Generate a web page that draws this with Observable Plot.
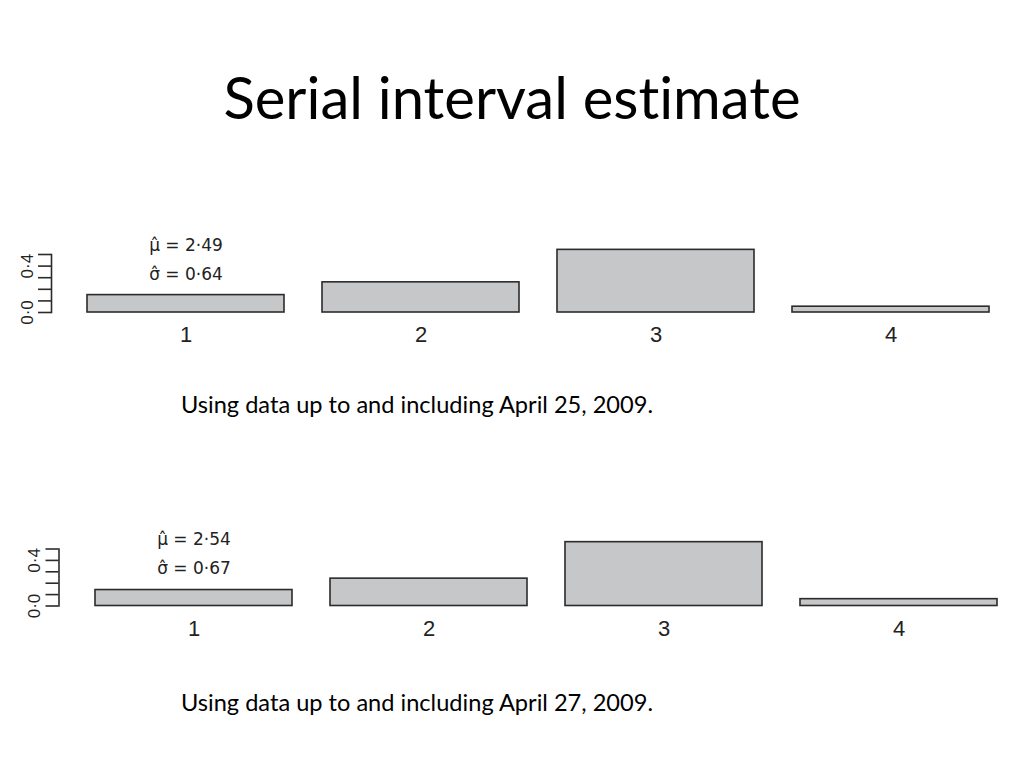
<!DOCTYPE html>
<html>
<head>
<meta charset="utf-8">
<script src="https://cdn.jsdelivr.net/npm/d3@7"></script>
<script src="https://cdn.jsdelivr.net/npm/@observablehq/plot@0.6"></script>
<style>
  html, body { margin: 0; padding: 0; background: #fff; }
  body { width: 1024px; height: 768px; position: relative; overflow: hidden; }
  #title { position: absolute; left: 0; width: 1024px; top: 68px; text-align: center;
           font-family: Lato, "Open Sans", sans-serif; font-size: 58px; color: #000; line-height: 1;
           font-variant-ligatures: none; }
  .cap { position: absolute; left: 181px; font-family: Lato, "Open Sans", sans-serif;
         font-size: 23.6px; color: #000; line-height: 1; white-space: nowrap; }
  .chart { position: absolute; left: 0; }
</style>
</head>
<body>
<div id="title">Serial interval estimate</div>
<div id="c1" class="chart" style="top:190px"></div>
<div class="cap" id="cap1" style="top:393px"></div>
<div id="c2" class="chart" style="top:480px"></div>
<div class="cap" id="cap2" style="top:691px"></div>
<script>
// ---- data ----
const days = ["1", "2", "3", "4"];
const probApr25 = [0.15, 0.26, 0.54, 0.05];
const probApr27 = [0.14, 0.24, 0.56, 0.06];
const muApr25 = "2·49", sigmaApr25 = "0·64";
const muApr27 = "2·54", sigmaApr27 = "0·67";
const yTicks = [0, 0.1, 0.2, 0.3, 0.4, 0.5];
const yTickLabels = new Map([[0, "0·0"], [0.4, "0·4"]]);
const captionApr25 = "Using data up to and including April 25, 2009.";
const captionApr27 = "Using data up to and including April 27, 2009.";

document.getElementById("cap1").textContent = captionApr25;
document.getElementById("cap2").textContent = captionApr27;

function panel(values, mu, sigma, layout) {
  const rows = days.map((d, i) => ({day: d, p: values[i]}));
  const notes = [
    {day: days[0], p: values[0], label: "μ̂ = " + mu, dy: -50},
    {day: days[0], p: values[0], label: "σ̂ = " + sigma, dy: -21}
  ];
  return Plot.plot({
    width: 1024,
    height: layout.height,
    marginTop: layout.marginTop,
    marginBottom: layout.marginBottom,
    marginLeft: layout.axisX,
    marginRight: 0,
    style: {fontFamily: "'Liberation Sans', Arial, sans-serif", background: "transparent", overflow: "visible"},
    x: {domain: days, range: [layout.axisX, layout.axisX + 974], paddingInner: 0.163, paddingOuter: 0.153, label: null},
    y: {domain: [0, 0.5], label: null},
    marks: [
      Plot.barY(rows, {x: "day", y: "p", fill: "#c6c7c9", stroke: "#2b2b2b", strokeWidth: 1.6}),
      Plot.frame({anchor: "left", stroke: "#2b2b2b", strokeWidth: 1.6}),
      Plot.axisY({ticks: yTicks, tickSize: 13, tickPadding: 6, tickRotate: -90, fontSize: 17,
                  tickFormat: d => yTickLabels.get(d) ?? "", stroke: "#2b2b2b", strokeWidth: 1.6, fill: "#222", label: null}),
      Plot.axisX({tickSize: 0, tickPadding: 14, fontSize: 22, fill: "#222", label: null}),
      ...notes.map(n => Plot.text([n], {x: "day", y: "p", dy: n.dy, text: "label", fontSize: 17,
                                        fontFamily: "'DejaVu Sans', sans-serif", fill: "#222"}))
    ]
  });
}

document.getElementById("c1").appendChild(panel(probApr25, muApr25, sigmaApr25,
  {height: 170, marginTop: 64, marginBottom: 48, axisX: 51}));
document.getElementById("c2").appendChild(panel(probApr27, muApr27, sigmaApr27,
  {height: 170, marginTop: 68.5, marginBottom: 44.5, axisX: 58.5}));
</script>
</body>
</html>
